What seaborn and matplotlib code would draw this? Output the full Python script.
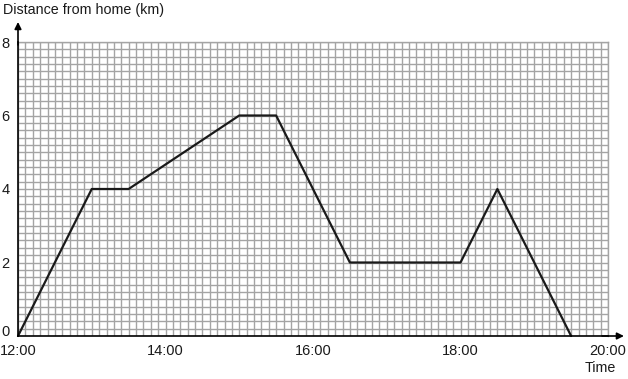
import matplotlib
matplotlib.use("Agg")
import matplotlib.pyplot as plt
import seaborn as sns
import pandas as pd
from matplotlib.ticker import MultipleLocator

times = ["12:00", "13:00", "13:30", "15:00", "15:30", "16:30", "18:00", "18:30", "19:30"]
distance_km = [0, 4, 4, 6, 6, 2, 2, 4, 0]
x_tick_labels = ["12:00", "14:00", "16:00", "18:00", "20:00"]
y_tick_labels = [0, 2, 4, 6, 8]

def to_hours(t):
    h, m = t.split(":")
    return int(h) + int(m) / 60.0

df = pd.DataFrame({"hours": [to_hours(t) for t in times], "distance": distance_km})

sns.set_theme(style="white")
plt.rcParams["font.family"] = ["Liberation Sans", "DejaVu Sans"]

fig = plt.figure(figsize=(6.28, 3.79), dpi=100)
ax = fig.add_axes([18 / 628, 43 / 379, 590 / 628, 294 / 379])

grid_color = "#a4a4a4"
ax.set_xlim(to_hours(x_tick_labels[0]), to_hours(x_tick_labels[-1]))
ax.set_ylim(y_tick_labels[0], y_tick_labels[-1])
ax.xaxis.set_minor_locator(MultipleLocator(0.1))
ax.yaxis.set_minor_locator(MultipleLocator(0.2))
ax.set_xticks([to_hours(f"{h}:00") for h in range(12, 21)])
ax.set_xticklabels([f"{h}:00" if f"{h}:00" in x_tick_labels else "" for h in range(12, 21)])
ax.set_yticks(y_tick_labels)
ax.set_yticklabels([str(v) for v in y_tick_labels])
ax.grid(which="both", color=grid_color, linewidth=1.0)
ax.tick_params(which="minor", length=0)
ax.tick_params(which="major", direction="out", length=5, width=1, color="black",
               labelsize=10.5, labelcolor="#1a1a1a", pad=1)
ax.tick_params(axis="y", pad=1)
# the "0" label sits just above the x axis, as in the reference
ax.get_yticklabels()[0].set_va("baseline")

sns.lineplot(data=df, x="hours", y="distance", ax=ax, color="#1a1a1a",
             linewidth=1.6, zorder=5, clip_on=False)

ax.set_xlabel("")
ax.set_ylabel("")
for s in ["top", "right"]:
    ax.spines[s].set_color(grid_color)
    ax.spines[s].set_linewidth(1.0)
for s in ["left", "bottom"]:
    ax.spines[s].set_color("black")
    ax.spines[s].set_linewidth(1.2)
    ax.spines[s].set_zorder(6)

# axis arrows
ax.annotate("", xy=(0, 1.068), xycoords="axes fraction", xytext=(0, 0.99),
            arrowprops=dict(arrowstyle="-|>", color="black", lw=1.2,
                            mutation_scale=10, shrinkA=0, shrinkB=0),
            annotation_clip=False)
ax.annotate("", xy=(1.027, 0), xycoords="axes fraction", xytext=(0.99, 0),
            arrowprops=dict(arrowstyle="-|>", color="black", lw=1.2,
                            mutation_scale=10, shrinkA=0, shrinkB=0),
            annotation_clip=False)

fig.text(3 / 628, 1 - 3 / 379, "Distance from home (km)", fontsize=10.3,
         color="#1a1a1a", ha="left", va="top")
fig.text(616 / 628, 1 - 368 / 379, "Time", fontsize=10.3, color="#1a1a1a",
         ha="right", va="center")

fig.savefig("out.png", dpi=100)
